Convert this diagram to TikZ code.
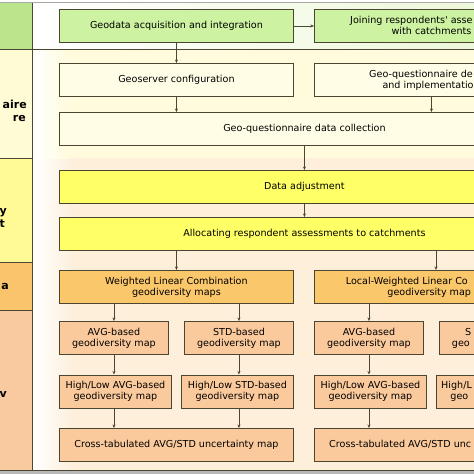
\documentclass[tikz,border=0pt]{standalone}
\usepackage{fontspec}
\setmainfont{DejaVu Sans}
\usetikzlibrary{arrows.meta}
\definecolor{bord}{HTML}{4A4632}
\definecolor{graytop}{HTML}{A8A8A8}
\definecolor{graybot}{HTML}{B8B8B8}
\definecolor{colgreen}{HTML}{BAE58C}
\definecolor{colpale}{HTML}{FFFBD4}
\definecolor{colyellow}{HTML}{FFFA96}
\definecolor{colorange}{HTML}{F9C46C}
\definecolor{colsalmon}{HTML}{F9C9A0}
\definecolor{bggreen}{HTML}{EEF8DA}
\definecolor{bgpale}{HTML}{FFFBDC}
\definecolor{bgpeach}{HTML}{FDEFDA}
\definecolor{boxgreen}{HTML}{CCF2A2}
\definecolor{boxpale}{HTML}{FFFDE6}
\definecolor{boxyellow}{HTML}{FFFF66}
\definecolor{boxorange}{HTML}{FBC76B}
\definecolor{boxpeach}{HTML}{FBCA9C}
\tikzset{
  box/.style={draw=bord, line width=0.9pt, align=center, inner sep=0pt,
    font=\fontsize{9.6}{11}\selectfont, anchor=north west, minimum height=33pt},
  wide/.style={box, minimum width=490pt},
  half/.style={box, minimum width=234pt},
  small/.style={box, minimum width=109pt},
  smallw/.style={box, minimum width=112pt},
  frag/.style={font=\fontsize{9.6}{11}\selectfont, inner sep=0pt, anchor=base west},
  fragc/.style={frag, anchor=base},
  arr/.style={draw=bord, line width=0.7pt, -{Stealth[length=3.5pt,width=3pt]}},
  sep/.style={draw=bord, line width=0.9pt},
  side/.style={font=\bfseries\fontsize{11}{13}\selectfont, inner sep=0pt, anchor=base east}
}
\begin{document}
\begin{tikzpicture}[x=1pt,y=-1pt]
\useasboundingbox (0,0) rectangle (474,474);
\clip (0,0) rectangle (474,474);
% background
\fill[white] (0,0) rectangle (474,1.5);
\fill[graytop] (0,1.5) rectangle (474,3.3);
\fill[bgpeach] (33,158) rectangle (474,470);
\shade[left color=white, right color=bgpeach] (33,158) rectangle (75,470);
\fill[bgpale] (33,49) rectangle (474,158);
\shade[left color=white, right color=bgpale] (33,49) rectangle (70,158);
\shade[left color=white, right color=bggreen] (33,3.3) rectangle (474,49);
\fill[colgreen] (0,3.3) rectangle (32.5,49);
\fill[colpale] (0,49) rectangle (32.5,158);
\fill[colyellow] (0,158) rectangle (32.5,262);
\fill[colorange] (0,262) rectangle (32.5,310);
\fill[colsalmon] (0,310) rectangle (32.5,470);
\fill[graybot] (0,470) rectangle (474,474);
\draw[sep] (32.5,3.3) -- (32.5,470);
\draw[sep] (0,49) -- (474,49);
\draw[sep] (0,158) -- (32.5,158);
\draw[sep] (0,262) -- (32.5,262);
\draw[sep] (0,310) -- (32.5,310);
\draw[sep] (0,470) -- (474,470);
% side labels (visible parts)
\node[side] (s1a) at (27,108) {aire};
\node[side] (s1b) at (26,121) {re};
\node[side] (s2a) at (7,214) {y};
\node[side] (s2b) at (5,227) {t};
\node[side] (s3) at (9,289) {a};
\node[side] (s4) at (7,397) {v};
% boxes, left part
\node[half, fill=boxgreen] (geo) at (59,9) {Geodata acquisition and integration};
\node[half, fill=boxpale] (gs) at (59,63) {Geoserver configuration};
\node[wide, fill=boxpale] (dc) at (59,112) {Geo-questionnaire data collection};
\node[wide, fill=boxyellow] (adj) at (59,170) {Data adjustment};
\node[wide, fill=boxyellow] (al) at (59,217) {Allocating respondent assessments to catchments};
\node[half, fill=boxorange] (wlc) at (59,270) {Weighted Linear Combination\\geodiversity maps};
\node[small, fill=boxpeach] (avg1) at (59,321) {AVG-based\\geodiversity map};
\node[small, fill=boxpeach] (std1) at (184,321) {STD-based\\geodiversity map};
\node[smallw, fill=boxpeach] (hla1) at (59,374.5) {High/Low AVG-based\\geodiversity map};
\node[smallw, fill=boxpeach] (hls1) at (181,374.5) {High/Low STD-based\\geodiversity map};
\node[half, fill=boxpeach] (cr1) at (59,428) {Cross-tabulated AVG/STD uncertainty map};
% boxes, right part (cut by the picture's edge)
\node[half, fill=boxgreen] (join) at (314,9) {};
\node[half, fill=boxpale] (des) at (314,63) {};
\node[half, fill=boxorange] (lw) at (314,270) {};
\node[small, fill=boxpeach] (avg2) at (314,321) {AVG-based\\geodiversity map};
\node[small, fill=boxpeach] (std2) at (439,321) {};
\node[smallw, fill=boxpeach] (hla2) at (314,374.5) {High/Low AVG-based\\geodiversity map};
\node[smallw, fill=boxpeach] (hls2) at (436,374.5) {};
\node[half, fill=boxpeach] (cr2) at (314,428) {};
% visible parts of the cut texts
\node[frag] (tj1) at (350,23) {Joining respondents\textquotesingle{} asse};
\node[fragc] (tj2) at (431.5,34) {with catchments};
\node[frag] (td1) at (369,77.5) {Geo-questionnaire de};
\node[frag] (td2) at (382.3,88.5) {and implementatio};
\node[frag] (tl1) at (345.7,284) {Local-Weighted Linear Co};
\node[frag] (tl2) at (387.2,295) {geodiversity map};
\node[frag] (ts1) at (465,335) {S};
\node[frag] (ts2) at (451.7,346) {geo};
\node[frag] (th1) at (441,388.5) {High/L};
\node[frag] (th2) at (450.2,399.5) {geo};
\node[frag] (tc) at (329,447.5) {Cross-tabulated AVG/STD unc};
% connectors
\draw[arr] (geo.south) -- (gs.north);
\draw[arr] (geo.east) -- (join.west);
\draw[arr] (gs.south) -- (gs.south |- dc.north);
\draw[arr] (des.south) -- (des.south |- dc.north);
\draw[arr] (dc.south) -- (adj.north);
\draw[arr] (adj.south) -- (al.north);
\draw[arr] (al.south -| wlc.north) -- (wlc.north);
\draw[arr] ([xshift=4.5pt]al.south -| lw.north) -- ([xshift=4.5pt]lw.north);
\draw[arr] (avg1.north |- wlc.south) -- (avg1.north);
\draw[arr] (std1.north |- wlc.south) -- (std1.north);
\draw[arr] (avg1.south) -- (avg1.south |- hla1.north);
\draw[arr] (std1.south) -- (std1.south |- hls1.north);
\draw[arr] (avg1.south |- hla1.south) -- (avg1.south |- cr1.north);
\draw[arr] (std1.south |- hls1.south) -- (std1.south |- cr1.north);
\draw[arr] (avg2.north |- lw.south) -- (avg2.north);
\draw[arr] (std2.north |- lw.south) -- (std2.north);
\draw[arr] (avg2.south) -- (avg2.south |- hla2.north);
\draw[arr] (std2.south) -- (std2.south |- hls2.north);
\draw[arr] (avg2.south |- hla2.south) -- (avg2.south |- cr2.north);
\draw[arr] (std2.south |- hls2.south) -- (std2.south |- cr2.north);
\end{tikzpicture}
\end{document}
